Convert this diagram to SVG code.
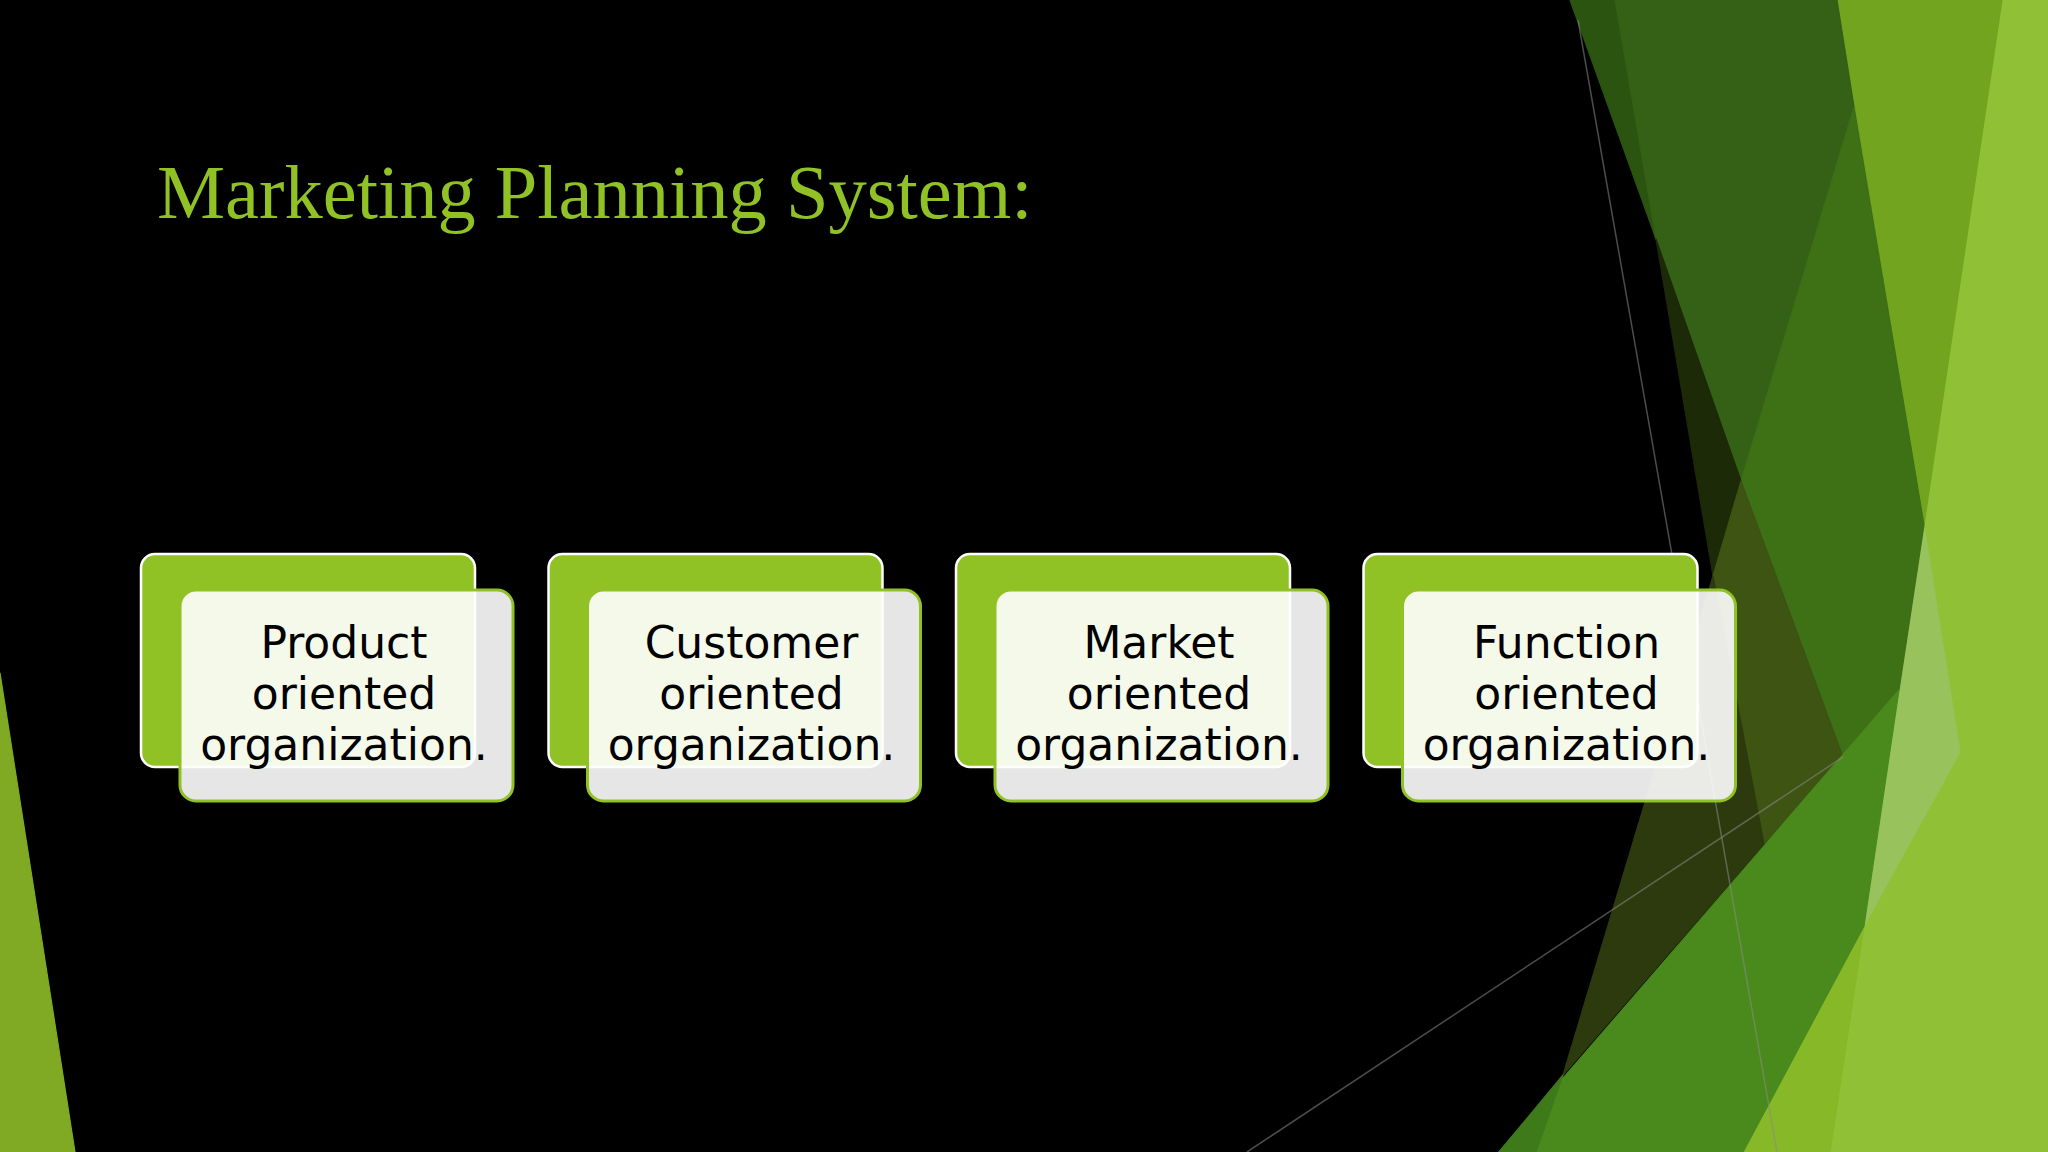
<svg xmlns="http://www.w3.org/2000/svg" width="2048" height="1152" viewBox="0 0 2048 1152">
  <defs>
    <style>
      .title { font-family: "Liberation Serif", "Times New Roman", serif; font-size: 76.5px; fill: #90C226; }
      .back { fill: #90C226; stroke: #FFFFFF; stroke-width: 2.5; }
      .front { fill: #FFFFFF; fill-opacity: 0.9; stroke: #90C226; stroke-width: 3; }
      .label { font-family: "DejaVu Sans", "Verdana", sans-serif; font-size: 44px; fill: #000000; text-anchor: middle; }
      .thin { stroke: #8a8a8a; stroke-opacity: 0.55; stroke-width: 1.5; fill: none; }
      #decoration polygon { stroke-width: 1.2; stroke-linejoin: round; }
    </style>
  </defs>

  <rect x="0" y="0" width="2048" height="1152" fill="#000000"/>

  <g id="decoration">
    <polygon points="0,673 75,1152 0,1152" fill="#80AA24" stroke="#80AA24"/>
    <polygon points="2002,0 2048,0 2048,1152 1830,1152" fill="#8FC035" stroke="#8FC035"/>
    <polygon points="1837,0 2002,0 1924,525" fill="#72A420" stroke="#72A420"/>
    <polygon points="1924,525 1960,752 1864,926" fill="#98C25C" stroke="#98C25C"/>
    <polygon points="1864,926 1830,1152 1743,1152" fill="#86B828" stroke="#86B828"/>
    <polygon points="1570,0 1615,0 1656,239" fill="#2A5410" stroke="#2A5410"/>
    <polygon points="1615,0 1837,0 1854,107 1741,481 1656,239" fill="#346115" stroke="#346115"/>
    <polygon points="1854,107 1924,525 1899,690 1843,757 1741,481" fill="#3E7016" stroke="#3E7016"/>
    <polygon points="1656,239 1741,481 1713,576" fill="#1C2A08" stroke="#1C2A08"/>
    <polygon points="1713,576 1741,481 1843,757 1764,844" fill="#3D5412" stroke="#3D5412"/>
    <polygon points="1713,576 1764,844 1563,1075" fill="#2C3A0E" stroke="#2C3A0E"/>
    <polygon points="1499,1152 1899,690 1864,926 1743,1152" fill="#4A8A1D" stroke="#4A8A1D"/>
    <polygon points="1499,1152 1563,1075 1536,1152" fill="#3F7A1A" stroke="#3F7A1A"/>
    <line class="thin" x1="1578" y1="20" x2="1777" y2="1152"/>
    <line class="thin" x1="1247" y1="1152" x2="1843" y2="757"/>
  </g>

  <text class="title" x="157" y="218">Marketing Planning System:</text>

  <g id="node-product">
    <rect class="back" x="141" y="554" width="334" height="213" rx="14"/>
    <rect class="front" x="180" y="590" width="333" height="211" rx="16"/>
    <text class="label" x="344" y="658">Product</text>
    <text class="label" x="344" y="709">oriented</text>
    <text class="label" x="344" y="760">organization.</text>
  </g>

  <g id="node-customer">
    <rect class="back" x="548.5" y="554" width="334" height="213" rx="14"/>
    <rect class="front" x="587.5" y="590" width="333" height="211" rx="16"/>
    <text class="label" x="751.5" y="658">Customer</text>
    <text class="label" x="751.5" y="709">oriented</text>
    <text class="label" x="751.5" y="760">organization.</text>
  </g>

  <g id="node-market">
    <rect class="back" x="956" y="554" width="334" height="213" rx="14"/>
    <rect class="front" x="995" y="590" width="333" height="211" rx="16"/>
    <text class="label" x="1159" y="658">Market</text>
    <text class="label" x="1159" y="709">oriented</text>
    <text class="label" x="1159" y="760">organization.</text>
  </g>

  <g id="node-function">
    <rect class="back" x="1363.5" y="554" width="334" height="213" rx="14"/>
    <rect class="front" x="1402.5" y="590" width="333" height="211" rx="16"/>
    <text class="label" x="1566.5" y="658">Function</text>
    <text class="label" x="1566.5" y="709">oriented</text>
    <text class="label" x="1566.5" y="760">organization.</text>
  </g>

  <g id="connectors"/>
</svg>
